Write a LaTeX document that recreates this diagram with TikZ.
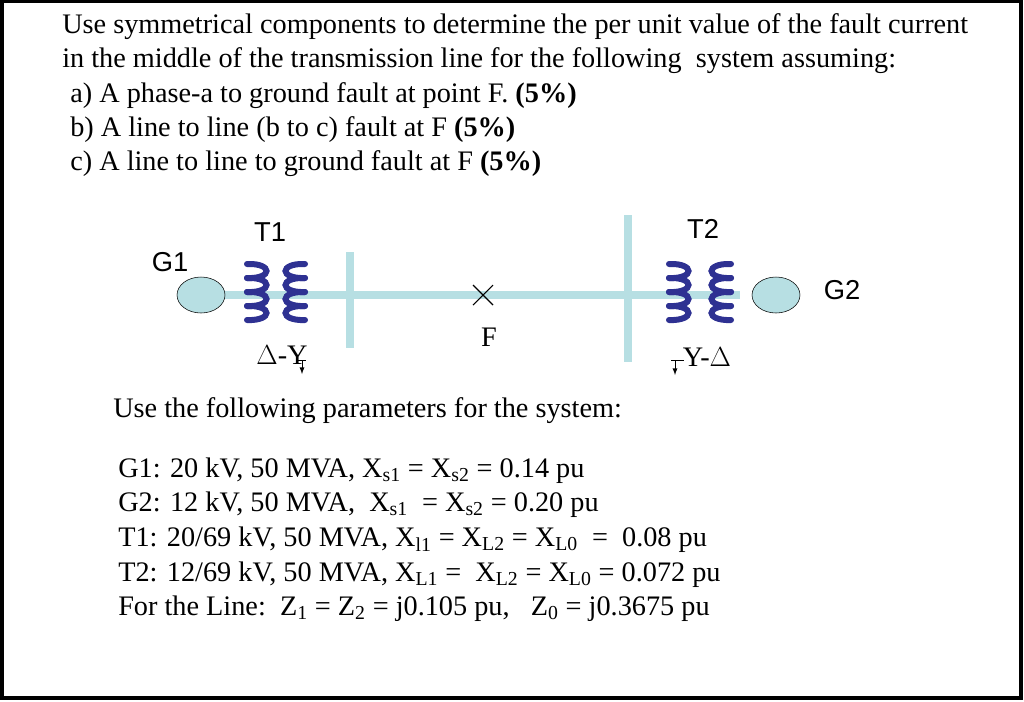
\documentclass[tikz,border=0pt]{standalone}
\usepackage{fontspec}
\setmainfont{Liberation Serif}
\newfontfamily\arial{Liberation Sans}
\usetikzlibrary{shapes.geometric}
\begin{document}
\begin{tikzpicture}[x=0.75pt,y=-0.75pt,
  txt/.style={anchor=west,inner sep=0,font=\fontsize{21.2}{24}\selectfont},
  lab/.style={inner sep=0,font=\arial\fontsize{20.5}{24}\selectfont},
  wire/.style={color=lb,line width=5.5pt},
  coil/.style={color=cb,line width=4.5pt,line cap=round},
  gen/.style={draw=black,fill=lb,ellipse,minimum width=36pt,minimum height=27pt,inner sep=0}]
\definecolor{lb}{HTML}{B7DFE3}
\definecolor{cb}{HTML}{2E3192}
\useasboundingbox (0,0) rectangle (1024,701);
\draw[line width=2.4pt] (2,1) rectangle (1021,698);
\node[txt] at (62,27) {Use symmetrical components to determine the per unit value of the fault current};
\node[txt] at (62,61) {in the middle of the transmission line for the following\ \ system assuming:};
\node[txt] at (70,96) {a) A phase-a to ground fault at point F. \textbf{(5\%)}};
\node[txt] at (70,130) {b) A line to line (b to c) fault at F \textbf{(5\%)}};
\node[txt] at (70,164) {c) A line to line to ground fault at F \textbf{(5\%)}};
% wires
\coordinate (w1) at (220,295);
\coordinate (w2) at (740,295);
\draw[wire] (w1) -- (w2);
\draw[wire] (350,252) -- (350,348);
\draw[wire,line width=6pt] (628,215) -- (628,362);
\node[gen] (g1) at (201,295) {};
\node[gen] (g2) at (776,295) {};
% coils
\foreach \cx/\s in {247/1,305/-1,669/1,731/-1}{
  \foreach \cy in {271,285,299,313}{
    \draw[coil] (\cx,\cy-7) .. controls (\cx+26*\s,\cy-8) and (\cx+26*\s,\cy+8) .. (\cx,\cy+7);
  }}
\node[lab] (t1) at (270,232) {T1};
\node[lab] (gl1) at (170,262) {G1};
\node[lab] (t2) at (703,229) {T2};
\node[lab] (gl2) at (842,290) {G2};
% fault
\draw[line width=0.8pt] (473,285) -- (493,305) (473,305) -- (493,285);
\node[txt,anchor=center] (f) at (489,337) {F};
\node[txt,anchor=center] (d1) at (282,355) {$\Delta$-Y};
\draw[-latex,line width=0.7pt] (302,360) -- (302,374);
\draw[line width=0.7pt] (297,360) -- (306,360);
\node[txt,anchor=center] (d2) at (707,357) {Y-$\Delta$};
\draw[-latex,line width=0.7pt] (675,360) -- (675,375);
\draw[line width=0.7pt] (671,360) -- (684,360);
% parameters
\node[txt] at (113,411) {Use the following parameters for the system:};
\node[txt] at (118,471) {G1: 20 kV, 50 MVA, X\textsubscript{s1} = X\textsubscript{s2} = 0.14 pu};
\node[txt] at (118,505) {G2: 12 kV, 50 MVA,\ \ X\textsubscript{s1}\ \ = X\textsubscript{s2} = 0.20 pu};
\node[txt] at (118,540) {T1: 20/69 kV, 50 MVA, X\textsubscript{l1} = X\textsubscript{L2} = X\textsubscript{L0}\ \ =\ \ 0.08 pu};
\node[txt] at (118,575) {T2: 12/69 kV, 50 MVA, X\textsubscript{L1} =\ \ X\textsubscript{L2} = X\textsubscript{L0}\ = 0.072 pu};
\node[txt] at (118,609) {For the Line:\ \ Z\textsubscript{1} = Z\textsubscript{2} = j0.105 pu,\ \ \ Z\textsubscript{0} = j0.3675 pu};
\end{tikzpicture}
\end{document}
